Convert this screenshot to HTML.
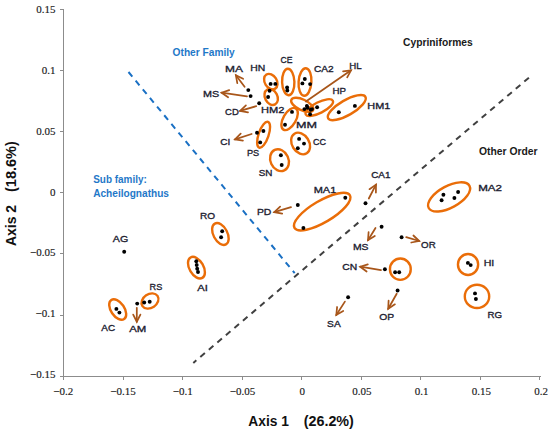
<!DOCTYPE html>
<html><head><meta charset="utf-8"><style>
html,body{margin:0;padding:0;background:#fff;overflow:hidden;}
svg{display:block;}
text{font-family:"Liberation Sans",sans-serif;}
.ser{font-family:"Liberation Serif",serif;}
</style></head><body>
<svg width="550" height="432" viewBox="0 0 550 432">
<rect width="550" height="432" fill="#fff"/>

<g stroke="#8c8c8c" stroke-width="1" fill="none" shape-rendering="crispEdges">
<path d="M63.5 9 V376.5 H540.5"/>
<path d="M60 9.0 H63.5"/>
<path d="M60 70.2 H63.5"/>
<path d="M60 131.4 H63.5"/>
<path d="M60 192.7 H63.5"/>
<path d="M60 253.8 H63.5"/>
<path d="M60 315.2 H63.5"/>
<path d="M60 376.5 H63.5"/>
<path d="M63.5 376.5 V380"/>
<path d="M123.0 376.5 V380"/>
<path d="M182.5 376.5 V380"/>
<path d="M242.0 376.5 V380"/>
<path d="M301.5 376.5 V380"/>
<path d="M361.0 376.5 V380"/>
<path d="M420.5 376.5 V380"/>
<path d="M480.0 376.5 V380"/>
<path d="M539.5 376.5 V380"/>
</g>
<g class="ser" font-size="11" fill="#1a1a1a" stroke="#1a1a1a" stroke-width="0.15" text-anchor="end">
<text class="ser" x="55.5" y="13.2">0.15</text>
<text class="ser" x="55.5" y="74.0">0.1</text>
<text class="ser" x="55.5" y="134.8">0.05</text>
<text class="ser" x="55.5" y="195.6">0</text>
<text class="ser" x="55.5" y="256.4">−0.05</text>
<text class="ser" x="55.5" y="317.2">−0.1</text>
<text class="ser" x="55.5" y="378.0">−0.15</text>
</g>
<g font-size="11" fill="#1a1a1a" stroke="#1a1a1a" stroke-width="0.15" text-anchor="middle">
<text class="ser" x="63.35" y="394.9">−0.2</text>
<text class="ser" x="123.07" y="394.9">−0.15</text>
<text class="ser" x="182.79" y="394.9">−0.1</text>
<text class="ser" x="242.51" y="394.9">−0.05</text>
<text class="ser" x="302.23" y="394.9">0</text>
<text class="ser" x="361.95" y="394.9">0.05</text>
<text class="ser" x="421.67" y="394.9">0.1</text>
<text class="ser" x="481.39" y="394.9">0.15</text>
<text class="ser" x="541.11" y="394.9">0.2</text>
</g>
<g font-size="13.8" font-weight="bold" fill="#111">
<text x="248.3" y="425.6" textLength="40.6" lengthAdjust="spacingAndGlyphs">Axis 1</text>
<text x="303.7" y="425.6" textLength="50.2" lengthAdjust="spacingAndGlyphs">(26.2%)</text>
<g transform="translate(16.4 0) rotate(-90)">
<text x="-246.0" y="0" textLength="41.0" lengthAdjust="spacingAndGlyphs">Axis 2</text>
<text x="-192.0" y="0" textLength="50.8" lengthAdjust="spacingAndGlyphs">(18.6%)</text>
</g></g>
<line x1="128.5" y1="72" x2="294.7" y2="273.2" stroke="#1a70c4" stroke-width="2" stroke-dasharray="6 5.22"/>
<line x1="193.3" y1="362.9" x2="529" y2="77.6" stroke="#404040" stroke-width="2" stroke-dasharray="6 5.19" stroke-dashoffset="2.0"/>
<text x="172.6" y="55.7" font-size="10" font-weight="bold" fill="#1f78c8" textLength="62.2" lengthAdjust="spacingAndGlyphs">Other Family</text>
<text x="93.2" y="183.2" font-size="10" font-weight="bold" fill="#1f78c8" textLength="53.6" lengthAdjust="spacingAndGlyphs">Sub family:</text>
<text x="93.2" y="196.8" font-size="10" font-weight="bold" fill="#1f78c8" textLength="75.8" lengthAdjust="spacingAndGlyphs">Acheilognathus</text>
<text x="403.1" y="45.5" font-size="10" font-weight="bold" fill="#1a1a1a" textLength="69.6" lengthAdjust="spacingAndGlyphs">Cypriniformes</text>
<text x="479" y="154.6" font-size="10" font-weight="bold" fill="#1a1a1a" textLength="58.5" lengthAdjust="spacingAndGlyphs">Other Order</text>
<g font-size="9.85" fill="#1c1c30" stroke="#1c1c30" stroke-width="0.35">
<text x="225.1" y="72.3" textLength="17.9" lengthAdjust="spacingAndGlyphs">MA</text>
<text x="250.2" y="70.5" textLength="15.0" lengthAdjust="spacingAndGlyphs">HN</text>
<text x="280.5" y="62.8" textLength="11.9" lengthAdjust="spacingAndGlyphs">CE</text>
<text x="313.9" y="72.3" textLength="19.7" lengthAdjust="spacingAndGlyphs">CA2</text>
<text x="349.3" y="69.3" textLength="12.4" lengthAdjust="spacingAndGlyphs">HL</text>
<text x="202.9" y="97.3" textLength="16.2" lengthAdjust="spacingAndGlyphs">MS</text>
<text x="225.1" y="115.4" textLength="13.7" lengthAdjust="spacingAndGlyphs">CD</text>
<text x="261.1" y="112.9" textLength="23.4" lengthAdjust="spacingAndGlyphs">HM2</text>
<text x="332.4" y="94.4" textLength="13.5" lengthAdjust="spacingAndGlyphs">HP</text>
<text x="367.3" y="108.9" textLength="23.0" lengthAdjust="spacingAndGlyphs">HM1</text>
<text x="296.0" y="128.0" textLength="21.0" lengthAdjust="spacingAndGlyphs">MM</text>
<text x="220.3" y="145.1" textLength="10.0" lengthAdjust="spacingAndGlyphs">CI</text>
<text x="246.9" y="156.0" textLength="12.2" lengthAdjust="spacingAndGlyphs">PS</text>
<text x="313.1" y="144.6" textLength="13.0" lengthAdjust="spacingAndGlyphs">CC</text>
<text x="258.7" y="176.2" textLength="13.7" lengthAdjust="spacingAndGlyphs">SN</text>
<text x="313.7" y="193.1" textLength="22.6" lengthAdjust="spacingAndGlyphs">MA1</text>
<text x="256.9" y="215.1" textLength="14.4" lengthAdjust="spacingAndGlyphs">PD</text>
<text x="371.2" y="177.5" textLength="19.3" lengthAdjust="spacingAndGlyphs">CA1</text>
<text x="352.9" y="249.5" textLength="15.6" lengthAdjust="spacingAndGlyphs">MS</text>
<text x="421.1" y="248.2" textLength="14.6" lengthAdjust="spacingAndGlyphs">OR</text>
<text x="342.3" y="269.9" textLength="14.9" lengthAdjust="spacingAndGlyphs">CN</text>
<text x="327.1" y="327.2" textLength="13.6" lengthAdjust="spacingAndGlyphs">SA</text>
<text x="379.3" y="320.3" textLength="14.9" lengthAdjust="spacingAndGlyphs">OP</text>
<text x="478.2" y="191.0" textLength="23.8" lengthAdjust="spacingAndGlyphs">MA2</text>
<text x="483.7" y="266.4" textLength="10.6" lengthAdjust="spacingAndGlyphs">HI</text>
<text x="487.6" y="317.6" textLength="14.6" lengthAdjust="spacingAndGlyphs">RG</text>
<text x="200.1" y="218.8" textLength="15.1" lengthAdjust="spacingAndGlyphs">RO</text>
<text x="197.3" y="290.8" textLength="10.6" lengthAdjust="spacingAndGlyphs">AI</text>
<text x="112.8" y="242.2" textLength="15.4" lengthAdjust="spacingAndGlyphs">AG</text>
<text x="149.6" y="290.2" textLength="12.7" lengthAdjust="spacingAndGlyphs">RS</text>
<text x="101.3" y="330.5" textLength="13.8" lengthAdjust="spacingAndGlyphs">AC</text>
<text x="129.2" y="332.3" textLength="17.1" lengthAdjust="spacingAndGlyphs">AM</text>
</g>
<g fill="none" stroke="#ea6d08" stroke-width="2.4">
<ellipse cx="270.80" cy="81.60" rx="8.30" ry="6.00" transform="rotate(58 270.80 81.60)"/>
<ellipse cx="271.20" cy="97.00" rx="8.40" ry="6.20" transform="rotate(62 271.20 97.00)"/>
<ellipse cx="288.25" cy="82.00" rx="13.25" ry="6.15" transform="rotate(88 288.25 82.00)"/>
<ellipse cx="305.00" cy="82.00" rx="13.80" ry="6.40" transform="rotate(94 305.00 82.00)"/>
<ellipse cx="302.25" cy="104.80" rx="12.00" ry="5.30" transform="rotate(25 302.25 104.80)"/>
<ellipse cx="319.30" cy="107.60" rx="15.20" ry="5.40" transform="rotate(-27 319.30 107.60)"/>
<ellipse cx="346.80" cy="107.60" rx="21.50" ry="7.50" transform="rotate(-30 346.80 107.60)"/>
<ellipse cx="289.60" cy="119.00" rx="12.30" ry="6.30" transform="rotate(120 289.60 119.00)"/>
<ellipse cx="263.60" cy="134.80" rx="13.60" ry="5.00" transform="rotate(109 263.60 134.80)"/>
<ellipse cx="279.50" cy="160.20" rx="11.30" ry="9.00" transform="rotate(65 279.50 160.20)"/>
<ellipse cx="300.60" cy="143.50" rx="11.60" ry="8.50" transform="rotate(58 300.60 143.50)"/>
<ellipse cx="322.20" cy="211.60" rx="32.20" ry="10.80" transform="rotate(-30.5 322.20 211.60)"/>
<ellipse cx="400.35" cy="269.20" rx="10.40" ry="10.65" transform="rotate(0 400.35 269.20)"/>
<ellipse cx="449.10" cy="196.90" rx="23.20" ry="10.80" transform="rotate(-28.5 449.10 196.90)"/>
<ellipse cx="468.05" cy="264.50" rx="10.10" ry="10.45" transform="rotate(0 468.05 264.50)"/>
<ellipse cx="477.00" cy="296.40" rx="12.20" ry="11.65" transform="rotate(0 477.00 296.40)"/>
<ellipse cx="220.40" cy="234.00" rx="11.80" ry="7.00" transform="rotate(62 220.40 234.00)"/>
<ellipse cx="196.45" cy="267.65" rx="11.80" ry="7.00" transform="rotate(60 196.45 267.65)"/>
<ellipse cx="150.00" cy="301.00" rx="9.10" ry="6.90" transform="rotate(-34 150.00 301.00)"/>
<ellipse cx="117.70" cy="309.50" rx="11.50" ry="6.70" transform="rotate(56 117.70 309.50)"/>
</g>
<g fill="none" stroke="#a8561a" stroke-width="1.75" stroke-linecap="round" stroke-linejoin="miter" stroke-miterlimit="3">
<line x1="244.6" y1="86.7" x2="235.9" y2="75.3"/><polyline points="243.1,78.8 235.9,75.3 237.3,83.2"/>
<line x1="247.0" y1="96.4" x2="221.6" y2="92.7"/><polyline points="229.2,90.1 221.6,92.7 228.1,97.3"/>
<line x1="256.2" y1="106.2" x2="240.1" y2="110.9"/><polyline points="245.9,105.4 240.1,110.9 248.0,112.4"/>
<line x1="251.6" y1="134.0" x2="235.0" y2="139.4"/><polyline points="240.7,133.7 235.0,139.4 242.9,140.6"/>
<line x1="305.9" y1="101.5" x2="351.0" y2="70.3"/><polyline points="347.2,77.3 351.0,70.3 343.1,71.4"/>
<line x1="291.0" y1="207.2" x2="274.3" y2="212.2"/><polyline points="280.1,206.7 274.3,212.2 282.2,213.6"/>
<line x1="368.8" y1="198.5" x2="376.0" y2="184.6"/><polyline points="375.9,192.6 376.0,184.6 369.5,189.2"/>
<line x1="375.5" y1="228.0" x2="368.0" y2="240.2"/><polyline points="368.6,232.2 368.0,240.2 374.8,236.0"/>
<line x1="406.2" y1="237.2" x2="419.2" y2="241.0"/><polyline points="411.3,242.5 419.2,241.0 413.4,235.5"/>
<line x1="381.0" y1="270.2" x2="360.2" y2="266.7"/><polyline points="367.8,264.3 360.2,266.7 366.6,271.5"/>
<line x1="344.9" y1="301.6" x2="336.3" y2="315.0"/><polyline points="337.1,307.0 336.3,315.0 343.2,311.0"/>
<line x1="396.7" y1="293.7" x2="388.2" y2="308.7"/><polyline points="388.6,300.7 388.2,308.7 394.9,304.3"/>
<line x1="136.8" y1="307.8" x2="136.8" y2="321.7"/><polyline points="133.2,314.6 136.8,321.7 140.4,314.6"/>
</g>
<g fill="#000">
<circle cx="248.3" cy="90.1" r="1.95"/>
<circle cx="250.6" cy="96.1" r="1.95"/>
<circle cx="259.2" cy="103.2" r="1.95"/>
<circle cx="270.6" cy="83.9" r="1.95"/>
<circle cx="275.3" cy="83.9" r="1.95"/>
<circle cx="269.6" cy="90.8" r="1.95"/>
<circle cx="268.1" cy="97" r="1.95"/>
<circle cx="287.1" cy="87.4" r="1.95"/>
<circle cx="287.3" cy="90.5" r="1.95"/>
<circle cx="292" cy="111.9" r="1.95"/>
<circle cx="304.8" cy="79" r="1.95"/>
<circle cx="302.4" cy="83.4" r="1.95"/>
<circle cx="310.1" cy="84.1" r="1.95"/>
<circle cx="306.9" cy="105.9" r="1.95"/>
<circle cx="307.5" cy="107.8" r="1.95"/>
<circle cx="304.4" cy="109.1" r="1.95"/>
<circle cx="310.7" cy="109.7" r="1.95"/>
<circle cx="312" cy="109.1" r="1.95"/>
<circle cx="317.1" cy="107.2" r="1.95"/>
<circle cx="310.1" cy="114.2" r="1.95"/>
<circle cx="338.8" cy="112.2" r="1.95"/>
<circle cx="354.9" cy="105.9" r="1.95"/>
<circle cx="285" cy="124.8" r="1.95"/>
<circle cx="257" cy="132.7" r="1.95"/>
<circle cx="263.4" cy="131" r="1.95"/>
<circle cx="260.2" cy="142.4" r="1.95"/>
<circle cx="280.9" cy="155.3" r="1.95"/>
<circle cx="281.7" cy="165" r="1.95"/>
<circle cx="299.1" cy="138.9" r="1.95"/>
<circle cx="304" cy="143.6" r="1.95"/>
<circle cx="297.8" cy="148.3" r="1.95"/>
<circle cx="297.8" cy="205" r="1.95"/>
<circle cx="303.4" cy="228" r="1.95"/>
<circle cx="345.3" cy="197.8" r="1.95"/>
<circle cx="365.5" cy="203.3" r="1.95"/>
<circle cx="381.6" cy="226.8" r="1.95"/>
<circle cx="401.6" cy="237.2" r="1.95"/>
<circle cx="384.9" cy="269.3" r="1.95"/>
<circle cx="395.1" cy="272.3" r="1.95"/>
<circle cx="399.2" cy="272.3" r="1.95"/>
<circle cx="397.6" cy="290.5" r="1.95"/>
<circle cx="348.1" cy="297.2" r="1.95"/>
<circle cx="443.4" cy="194.8" r="1.95"/>
<circle cx="441.6" cy="200.2" r="1.95"/>
<circle cx="454.4" cy="198" r="1.95"/>
<circle cx="458.1" cy="192" r="1.95"/>
<circle cx="467.9" cy="262.9" r="1.95"/>
<circle cx="470.7" cy="265.1" r="1.95"/>
<circle cx="475" cy="293.4" r="1.95"/>
<circle cx="475.9" cy="299" r="1.95"/>
<circle cx="222.2" cy="231.3" r="1.95"/>
<circle cx="221.1" cy="237.2" r="1.95"/>
<circle cx="196.3" cy="261.3" r="1.95"/>
<circle cx="196.7" cy="265" r="1.95"/>
<circle cx="197.2" cy="268.7" r="1.95"/>
<circle cx="198" cy="272" r="1.95"/>
<circle cx="124.2" cy="251.7" r="1.95"/>
<circle cx="137.2" cy="303.6" r="1.95"/>
<circle cx="144.2" cy="302.5" r="1.95"/>
<circle cx="149.7" cy="301.8" r="1.95"/>
<circle cx="116.4" cy="308.9" r="1.95"/>
<circle cx="119.4" cy="312.6" r="1.95"/>
</g>
</svg>
</body></html>
